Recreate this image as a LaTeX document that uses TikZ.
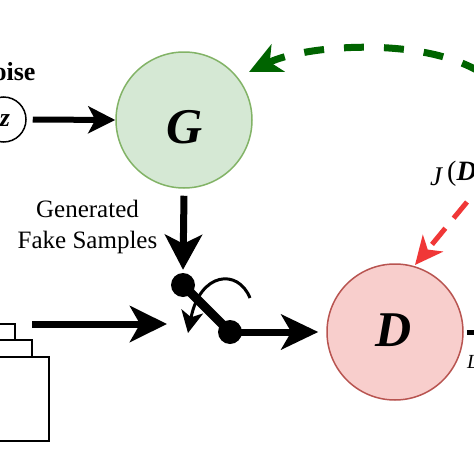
\documentclass[tikz,border=0pt]{standalone}
\usepackage{fontspec}
\setmainfont{Liberation Serif}
\usetikzlibrary{arrows.meta}
\definecolor{gfill}{HTML}{D5E8D4}
\definecolor{gdraw}{HTML}{82B366}
\definecolor{dfill}{HTML}{F8CECC}
\definecolor{ddraw}{HTML}{B85450}
\definecolor{greenc}{RGB}{0,100,0}
\definecolor{redc}{RGB}{240,55,55}
\tikzset{
  bigcirc/.style={circle, minimum size=136pt, inner sep=0pt, line width=1.5pt},
  dotnode/.style={circle, fill=black, minimum size=24pt, inner sep=0pt},
  flow/.style={line width=7pt},
  fs/.style={font=\fontsize{#1}{#1}\selectfont}
}
\begin{document}
\begin{tikzpicture}[x=1pt,y=-1pt]
\clip (0,0) rectangle (474,474);
\fill[white] (0,0) rectangle (474,474);

% nodes
\node[bigcirc, fill=gfill, draw=gdraw] (G) at (184,120) {};
\node[fs=50] (Gl) at (185,127) {\bfseries\itshape G};
\node[bigcirc, fill=dfill, draw=ddraw] (D) at (395,332) {};
\node[fs=50] (Dl) at (394,330) {\bfseries\itshape D};
\node[circle, draw, line width=1.5pt, minimum size=45pt, inner sep=0pt] (z) at (3.5,119.5) {};
\node[fs=26] (zl) at (5,121) {\bfseries\itshape z};
\node[fs=26, anchor=base east] (noise) at (39,80) {\bfseries Noise};
\node[fs=25, anchor=base] (gen1) at (87.5,217) {Generated};
\node[fs=25, anchor=base] (gen2) at (87.5,248) {Fake Samples};
\node[fs=27, anchor=base west, inner sep=0pt] (J) at (430,185) {\itshape J};
\node[fs=28, anchor=base west, inner sep=0pt] (JD) at (447,180) {(\bfseries\itshape D)};
\node[fs=20, anchor=base west, inner sep=0pt] (Lr) at (467,368) {\itshape L};

% switch
\node[dotnode] (s1) at (183,285) {};
\node[dotnode] (s2) at (230,332) {};
\draw[line width=9pt] (s1.center) -- (s2.center);

% database
\draw[line width=1.5pt] (-5,324) rectangle (15,340);
\draw[line width=1.5pt] (-5,340) rectangle (32,357);
\draw[line width=1.5pt] (-5,357) rectangle (49,441);

% coordinates
\coordinate (realstart) at (32,324);
\coordinate (swin) at (167,324);
\coordinate (c1) at (250,298);
\coordinate (c2) at (188,333);
\coordinate (gs) at (480,72);
\coordinate (gtip) at (249,72);
\coordinate (rs) at (467,202);
\coordinate (rtip) at (415,265);
\coordinate (dout) at (490,332);

% connectors
\draw[line width=6pt, -{Stealth[length=27pt,width=27pt,inset=7pt]}] ([xshift=6pt]z.east) -- (G.west);
\draw[flow, -{Stealth[length=35pt,width=37pt,inset=9pt]}] ([yshift=-7pt]G.south) -- ([yshift=3pt]s1.north);
\draw[flow, -{Stealth[length=37pt,width=36pt,inset=10pt]}] (realstart) -- (swin);
\draw[flow, -{Stealth[length=37pt,width=35pt,inset=10pt]}] (s2.center) -- ([xshift=-8pt]D.west);
\draw[line width=3pt, -{Stealth[length=22pt,width=22pt,inset=6pt]}] (c1) .. controls (238,268) and (200,272) .. (c2);
\draw[greenc, line width=7pt, dash pattern=on 20pt off 20pt, -{Stealth[length=32pt,width=30pt,inset=9pt]}] (gs) .. controls (420,36) and (305,45) .. (gtip);
\draw[redc, line width=5pt, dash pattern=on 21pt off 13pt, -{Stealth[length=28pt,width=26pt,inset=8pt]}] (rs) -- (rtip);
\draw[line width=5pt] ([xshift=3pt]D.east) -- (dout);
\end{tikzpicture}
\end{document}
